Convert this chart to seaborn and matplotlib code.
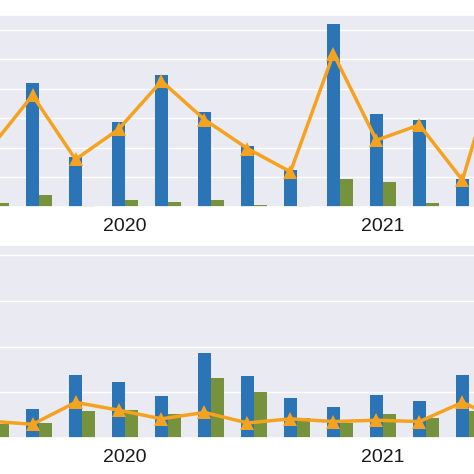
import numpy as np
import pandas as pd
import matplotlib
matplotlib.use("Agg")
import matplotlib.pyplot as plt
import seaborn as sns

# bimonthly periods, Jul 2019 .. Jul 2021
periods = ["2019-07", "2019-09", "2019-11", "2020-01", "2020-03", "2020-05",
           "2020-07", "2020-09", "2020-11", "2021-01", "2021-03", "2021-05",
           "2021-07"]
year_ticks = {"2020-01": "2020", "2021-01": "2021"}

# top panel
top_blue = [40.0, 42.1, 16.8, 28.8, 44.7, 32.0, 20.7, 12.5, 61.8, 31.5, 29.4, 9.5, 55.0]
top_green = [1.5, 4.1, 0.2, 2.4, 1.8, 2.3, 0.7, 0.2, 9.6, 8.4, 1.4, 0.5, 2.0]
top_line = [19.6, 37.8, 16.1, 26.3, 42.6, 29.6, 19.8, 11.9, 51.9, 22.6, 27.8, 9.1, 58.0]

# bottom panel
bot_blue = [8.0, 6.3, 13.8, 12.2, 9.3, 18.7, 13.6, 8.8, 6.8, 9.4, 8.0, 13.8, 7.0]
bot_green = [3.0, 3.2, 5.9, 6.1, 5.3, 13.1, 10.1, 4.4, 3.2, 5.3, 4.3, 5.9, 4.0]
bot_line = [3.7, 3.0, 7.8, 6.1, 4.2, 5.6, 3.3, 4.2, 3.6, 3.9, 3.6, 7.8, 3.5]

BLUE = "#2b74b5"
GREEN = "#76923c"
ORANGE = "#f5a21f"

sns.set_theme(style="darkgrid")
plt.rcParams["font.family"] = ["Liberation Sans", "DejaVu Sans"]

fig = plt.figure(figsize=(4.74, 4.74), dpi=100)
# axes are wider than the canvas so the picture looks cropped at both sides
ax_top = fig.add_axes([-0.0538, 0.5633, 1.179, 0.405])
ax_bot = fig.add_axes([-0.0538, 0.0759, 1.179, 0.407])


def draw_panel(ax, blue, green, line, ymax, yticks):
    df = pd.DataFrame({
        "period": periods * 2,
        "value": blue + green,
        "series": ["a"] * len(periods) + ["b"] * len(periods),
    })
    sns.barplot(data=df, x="period", y="value", hue="series",
                palette=[BLUE, GREEN], saturation=1, width=0.6,
                edgecolor="none", linewidth=0, legend=False, ax=ax)
    pos = np.arange(len(periods)) - 0.15
    ax.plot(pos, line, color=ORANGE, lw=2.5, marker="^", ms=10,
            markeredgewidth=0, zorder=5)
    ticks = [periods.index(p) for p in year_ticks]
    ax.set_xticks(ticks)
    ax.set_xticklabels(list(year_ticks.values()), fontsize=14, color="#1a1a1a")
    ax.set_xlim(-0.5, len(periods) - 0.5)
    ax.set_ylim(0, ymax)
    ax.set_yticks(yticks)
    ax.set_xlabel("")
    ax.set_ylabel("")
    ax.tick_params(axis="x", pad=2)
    # the value labels sit left of the visible area in the reference
    ax.tick_params(axis="y", labelleft=False)


draw_panel(ax_top, top_blue, top_green, top_line, 65, np.arange(0, 61, 10))
draw_panel(ax_bot, bot_blue, bot_green, bot_line, 42.2, np.arange(0, 41, 10))

fig.savefig("out.png", dpi=100)
